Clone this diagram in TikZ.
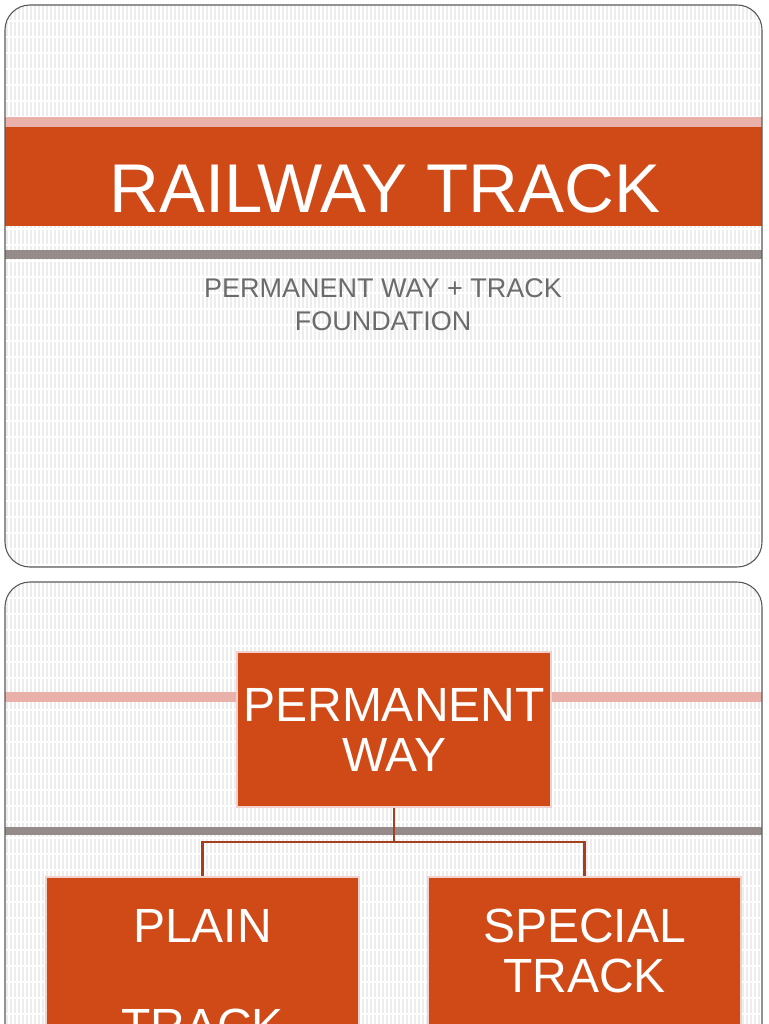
\documentclass[tikz,border=0pt]{standalone}
\usepackage{fontspec}
\setmainfont{Liberation Sans}
\usetikzlibrary{calc,positioning}
\definecolor{railorange}{HTML}{D04A18}
\definecolor{railpink}{HTML}{E9B1AA}
\definecolor{railgray}{HTML}{958B8B}
\definecolor{railbrown}{HTML}{A63F1E}
\definecolor{subgray}{HTML}{6B6B6B}
\def\slideback(#1,#2)(#3,#4)[#5]{%
	\begin{scope}
		\clip[rounded corners=25] (#1,#2) rectangle (#3,#4);
		\fill[white] (#1,#2) rectangle (#3,#4);
		\foreach \sx in {7,11,...,763} \draw[stripe] (\sx,#2) -- (\sx,#4);
		\foreach \sy in {0,16,...,#5} \draw[gapline] (#1,#2+\sy) -- (#3,#2+\sy);
	\end{scope}}

\begin{document}
\begin{tikzpicture}[x=1pt,y=-1pt,
	stripe/.style={line width=1.2pt, color=black!7},
	gapline/.style={line width=2pt, color=white},
	frame/.style={line width=1.1pt, color=black!65, rounded corners=25},
	pwbox/.style={fill=railorange, draw=railpink!60!white, line width=1.5pt, text=white,
		font=\fontsize{48}{50}\selectfont, align=center, inner xsep=4pt,
		minimum width=314pt, minimum height=155pt},
	kidbox/.style={fill=railorange, draw=railpink!60!white, line width=1.5pt, text=white,
		font=\fontsize{48}{50}\selectfont, align=center, inner xsep=4pt, inner ysep=32.6pt,
		minimum width=313pt, anchor=north},
	link/.style={line width=2.5pt, color=railbrown}]
			%%%%% START %%%%%
			\useasboundingbox (0,0) rectangle (768,1024);
			\clip (0,0) rectangle (768,1024);
			
			% first slide
			\slideback(5,5)(762,567)[560]
			\fill[railpink] (5,117) rectangle (762,127);
			\fill[railorange] (5,127) rectangle (762,226);
			\fill[railgray] (5,250) rectangle (762,259);
			\draw[frame] (5,5) rectangle (762,567);
			
			\node[font=\fontsize{69}{80}\selectfont, text=white, anchor=base] (title) at (385,213) {RAILWAY TRACK};
			\node[font=\fontsize{27}{33}\selectfont, text=subgray, align=center, inner sep=0pt] (subtitle) at (383,305) {PERMANENT WAY + TRACK\\FOUNDATION};
			
			% second slide
			\slideback(5,582)(762,1100)[512]
			\fill[railpink] (5,692) rectangle (762,702);
			\fill[railgray] (5,827) rectangle (762,835);
			\draw[frame] (5,582) rectangle (762,1100);
			
			\node[pwbox] (pw) at (394,729.5) {PERMANENT\\WAY};
			\node[kidbox] (plain) at (202.5,876) {PLAIN\\[50pt]TRACK};
			\node[kidbox] (special) at (584.5,876) {SPECIAL\\TRACK};
			
			\coordinate (forkrow) at (0,842);
			\coordinate (fork) at (pw.south |- forkrow);
			\draw[link] (pw.south) -- (fork) -| (plain.north);
			\draw[link] (fork) -| (special.north);
			
			%%%%% END %%%%%
\end{tikzpicture}
\end{document}
